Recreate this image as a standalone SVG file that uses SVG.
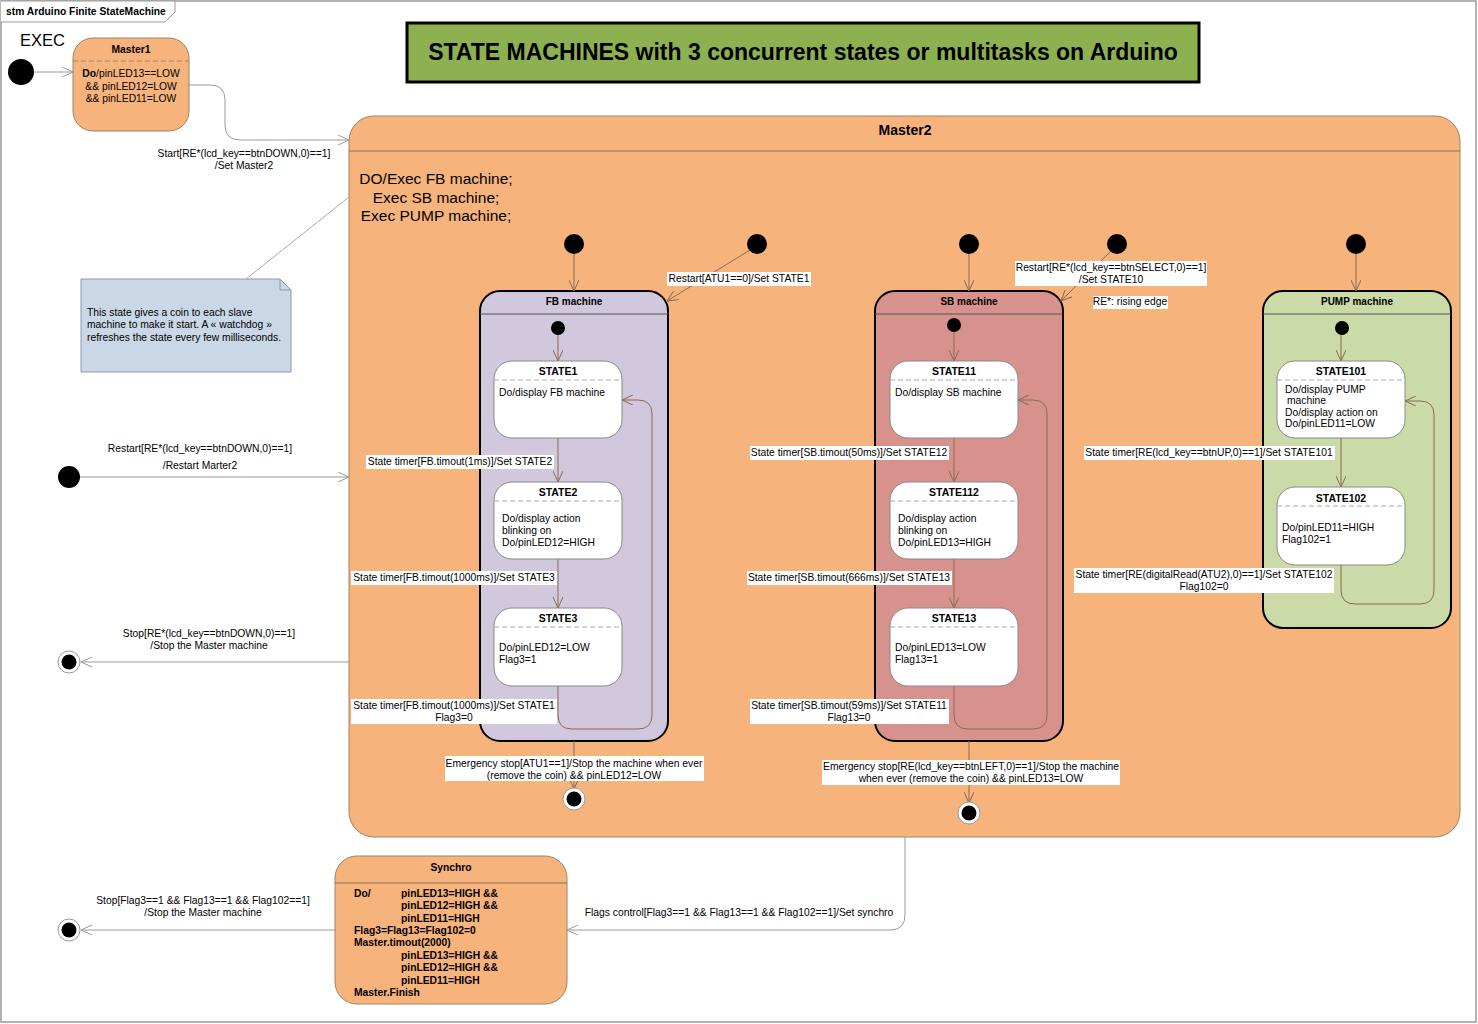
<svg xmlns="http://www.w3.org/2000/svg" width="1478" height="1024" viewBox="0 0 1478 1024">
<style>
text{font-family:"Liberation Sans",Arial,sans-serif;fill:#000}
.s{font-size:10.3px}
.b{font-weight:bold}
.c{text-anchor:middle}
.orange{fill:#F7B37C;stroke:#a08262;stroke-width:1}
.machine{stroke:#000;stroke-width:2}
.st{fill:#fff;stroke:#888;stroke-width:1}
.dash{stroke:#aaa;stroke-dasharray:5,3;stroke-width:1}
.sep{stroke:#8a6e55;stroke-width:1}
.lbl{fill:#fff}
.con{fill:none;stroke:#999;stroke-width:1}
.coni{fill:none;stroke:#8a6a52;stroke-width:1}
.init{fill:#000}
</style>
<defs>
<marker id="a" markerWidth="12" markerHeight="10" refX="11" refY="5" orient="auto" markerUnits="userSpaceOnUse">
<path d="M0,0 L11,5 L0,10" fill="none" stroke="#999" stroke-width="1"/>
</marker>
<marker id="ai" markerWidth="12" markerHeight="10" refX="11" refY="5" orient="auto" markerUnits="userSpaceOnUse">
<path d="M0,0 L11,5 L0,10" fill="none" stroke="#8a6a52" stroke-width="1"/>
</marker>
</defs>
<rect x="0" y="0" width="1478" height="1024" fill="#fff"/>
<rect x="1" y="1" width="1475" height="1021" fill="none" stroke="#999" stroke-width="1.5"/>
<path d="M1,1 L175,1 L175,12 L165,22 L1,22" fill="#fff" stroke="#999"/>
<text x="6" y="15" class="b" font-size="10.3">stm Arduino Finite StateMachine</text>

<g id="title">
<rect x="407" y="23" width="792" height="59" fill="#8DB150" stroke="#000" stroke-width="3"/>
<text x="803" y="60" class="c b" font-size="23">STATE MACHINES with 3 concurrent states or multitasks on Arduino</text>
</g>

<text x="20" y="46" font-size="16.5">EXEC</text>

<g id="master2">
<rect x="349" y="116" width="1111" height="721" rx="25" class="orange"/>
<line x1="349" y1="151" x2="1460" y2="151" class="sep"/>
<text x="905" y="135" class="c b" font-size="14">Master2</text>
<text x="436" y="184" class="c" font-size="15.5">DO/Exec FB machine;</text>
<text x="436" y="203" class="c" font-size="15.5">Exec SB machine;</text>
<text x="436" y="221" class="c" font-size="15.5">Exec PUMP machine;</text>
</g>

<g id="master1">
<rect x="73" y="38" width="116" height="93" rx="20" class="orange"/>
<text x="131" y="53" class="s b c">Master1</text>
<line x1="73" y1="61" x2="189" y2="61" stroke="#a08262" stroke-dasharray="5,3"/>
<text x="131" y="77" class="s c"><tspan class="b">Do</tspan>/pinLED13==LOW</text>
<text x="131" y="90" class="s c">&amp;&amp; pinLED12=LOW</text>
<text x="131" y="102" class="s c">&amp;&amp; pinLED11=LOW</text>
</g>

<g id="note">
<path d="M81,279 L280,279 L291,290 L291,372 L81,372 Z" fill="#CAD7E6" stroke="#8a9aab"/>
<path d="M280,279 L280,290 L291,290" fill="none" stroke="#8a9aab"/>
<text x="87" y="316" font-size="10.3">This state gives a coin to each slave</text>
<text x="87" y="328" font-size="10.3">machine to make it start. A « watchdog »</text>
<text x="87" y="341" font-size="10.3">refreshes the state every few milliseconds.</text>
</g>

<g id="fb">
<rect x="480" y="291" width="188" height="450" rx="20" fill="#D1C8DD" class="machine"/>
<line x1="480" y1="314" x2="668" y2="314" stroke="#555"/>
<text x="574" y="305" class="c b" font-size="10">FB machine</text>
</g>
<g id="sb">
<rect x="875" y="291" width="188" height="450" rx="20" fill="#D8928D" class="machine"/>
<line x1="875" y1="314" x2="1063" y2="314" stroke="#555"/>
<text x="969" y="305" class="c b" font-size="10">SB machine</text>
</g>
<g id="pump">
<rect x="1263" y="291" width="188" height="337" rx="20" fill="#CBDBA8" class="machine"/>
<line x1="1263" y1="314" x2="1451" y2="314" stroke="#555"/>
<text x="1357" y="305" class="c b" font-size="10">PUMP machine</text>
</g>

<g id="connectors">
<line x1="34" y1="72" x2="73" y2="72" class="con" marker-end="url(#a)"/>
<path d="M189,85 L210,85 Q225,85 225,100 L225,125 Q225,140 240,140 L349,140" class="con" marker-end="url(#a)"/>
<line x1="246" y1="279" x2="349" y2="197" stroke="#aaa"/>
<line x1="80" y1="477" x2="349" y2="477" class="con" marker-end="url(#a)"/>
<line x1="349" y1="662" x2="81" y2="662" class="con" marker-end="url(#a)"/>
<line x1="335" y1="930" x2="81" y2="930" class="con" marker-end="url(#a)"/>
<path d="M905,837 L905,915 Q905,930 890,930 L567,930" class="con" marker-end="url(#a)"/>

<line x1="574" y1="254" x2="574" y2="291" class="coni" marker-end="url(#ai)"/>
<line x1="750" y1="250" x2="667" y2="301" class="coni" marker-end="url(#ai)"/>
<line x1="969" y1="254" x2="969" y2="291" class="coni" marker-end="url(#ai)"/>
<line x1="1111" y1="251" x2="1061" y2="301" class="coni" marker-end="url(#ai)"/>
<line x1="1356" y1="254" x2="1356" y2="291" class="coni" marker-end="url(#ai)"/>
<line x1="574" y1="741" x2="574" y2="789" class="coni" marker-end="url(#ai)"/>
<line x1="969" y1="741" x2="969" y2="803" class="coni" marker-end="url(#ai)"/>

<line x1="558" y1="335" x2="558" y2="361" class="coni" marker-end="url(#ai)"/>
<line x1="558" y1="438" x2="558" y2="482" class="coni" marker-end="url(#ai)"/>
<line x1="558" y1="559" x2="558" y2="608" class="coni" marker-end="url(#ai)"/>
<path d="M558,686 L558,715 Q558,729 572,729 L638,729 Q652,729 652,715 L652,414 Q652,400 638,400 L622,400" class="coni" marker-end="url(#ai)"/>

<line x1="954" y1="332" x2="954" y2="361" class="coni" marker-end="url(#ai)"/>
<line x1="954" y1="438" x2="954" y2="482" class="coni" marker-end="url(#ai)"/>
<line x1="954" y1="559" x2="954" y2="608" class="coni" marker-end="url(#ai)"/>
<path d="M954,686 L954,715 Q954,729 968,729 L1033,729 Q1047,729 1047,715 L1047,414 Q1047,400 1033,400 L1018,400" class="coni" marker-end="url(#ai)"/>

<line x1="1341" y1="335" x2="1341" y2="361" class="coni" marker-end="url(#ai)"/>
<line x1="1341" y1="438" x2="1341" y2="487" class="coni" marker-end="url(#ai)"/>
<path d="M1341,565 L1341,590 Q1341,604 1355,604 L1420,604 Q1434,604 1434,590 L1434,415 Q1434,401 1420,401 L1405,401" class="coni" marker-end="url(#ai)"/>
</g>

<g id="initials">
<circle cx="21" cy="72" r="13" class="init"/>
<circle cx="69" cy="477" r="11" class="init"/>
<circle cx="574" cy="244" r="10" class="init"/>
<circle cx="757" cy="244" r="10" class="init"/>
<circle cx="969" cy="244" r="10" class="init"/>
<circle cx="1117" cy="244" r="10" class="init"/>
<circle cx="1356" cy="244" r="10" class="init"/>
<circle cx="558" cy="328" r="7" class="init"/>
<circle cx="954" cy="325" r="7" class="init"/>
<circle cx="1342" cy="328" r="7" class="init"/>
</g>
<g id="finals">
<circle cx="69" cy="662" r="11" fill="#fff" stroke="#999"/><circle cx="69" cy="662" r="7.5" class="init"/>
<circle cx="69" cy="930" r="11" fill="#fff" stroke="#999"/><circle cx="69" cy="930" r="7.5" class="init"/>
<circle cx="574" cy="799" r="11" fill="#fff" stroke="#999"/><circle cx="574" cy="799" r="7.5" class="init"/>
<circle cx="969" cy="813" r="11" fill="#fff" stroke="#999"/><circle cx="969" cy="813" r="7.5" class="init"/>
</g>

<g id="state1"><rect x="494" y="361" width="128" height="77" rx="18" class="st"/><text x="558" y="375" class="c b" font-size="10.5">STATE1</text><line x1="494" y1="380" x2="622" y2="380" class="dash"/><text x="499" y="396" class="s">Do/display FB machine</text></g>
<g id="state2"><rect x="494" y="482" width="128" height="77" rx="18" class="st"/><text x="558" y="496" class="c b" font-size="10.5">STATE2</text><line x1="494" y1="501" x2="622" y2="501" class="dash"/><text x="502" y="522" class="s">Do/display action</text><text x="502" y="534" class="s">blinking on</text><text x="502" y="546" class="s">Do/pinLED12=HIGH</text></g>
<g id="state3"><rect x="494" y="608" width="128" height="78" rx="18" class="st"/><text x="558" y="622" class="c b" font-size="10.5">STATE3</text><line x1="494" y1="627" x2="622" y2="627" class="dash"/><text x="499" y="651" class="s">Do/pinLED12=LOW</text><text x="499" y="663" class="s">Flag3=1</text></g>

<g id="state11"><rect x="890" y="361" width="128" height="77" rx="18" class="st"/><text x="954" y="375" class="c b" font-size="10.5">STATE11</text><line x1="890" y1="380" x2="1018" y2="380" class="dash"/><text x="895" y="396" class="s">Do/display SB machine</text></g>
<g id="state112"><rect x="890" y="482" width="128" height="77" rx="18" class="st"/><text x="954" y="496" class="c b" font-size="10.5">STATE112</text><line x1="890" y1="501" x2="1018" y2="501" class="dash"/><text x="898" y="522" class="s">Do/display action</text><text x="898" y="534" class="s">blinking on</text><text x="898" y="546" class="s">Do/pinLED13=HIGH</text></g>
<g id="state13"><rect x="890" y="608" width="128" height="78" rx="18" class="st"/><text x="954" y="622" class="c b" font-size="10.5">STATE13</text><line x1="890" y1="627" x2="1018" y2="627" class="dash"/><text x="895" y="651" class="s">Do/pinLED13=LOW</text><text x="895" y="663" class="s">Flag13=1</text></g>

<g id="state101"><rect x="1277" y="361" width="128" height="77" rx="18" class="st"/><text x="1341" y="375" class="c b" font-size="10.5">STATE101</text><line x1="1277" y1="380" x2="1405" y2="380" class="dash"/><text x="1285" y="393" class="s">Do/display PUMP</text><text x="1287" y="404" class="s">machine</text><text x="1285" y="416" class="s">Do/display action on</text><text x="1285" y="427" class="s">Do/pinLED11=LOW</text></g>
<g id="state102"><rect x="1277" y="487" width="128" height="78" rx="18" class="st"/><text x="1341" y="502" class="c b" font-size="10.5">STATE102</text><line x1="1277" y1="506" x2="1405" y2="506" class="dash"/><text x="1282" y="531" class="s">Do/pinLED11=HIGH</text><text x="1282" y="543" class="s">Flag102=1</text></g>

<g id="synchro">
<rect x="335" y="856" width="232" height="148" rx="22" class="orange"/>
<line x1="335" y1="883" x2="567" y2="883" class="sep"/>
<text x="451" y="871" class="c b" font-size="10.3">Synchro</text>
<g class="b" font-size="10.3">
<text x="354" y="897">Do/</text>
<text x="401" y="897">pinLED13=HIGH &amp;&amp;</text>
<text x="401" y="909">pinLED12=HIGH &amp;&amp;</text>
<text x="401" y="922">pinLED11=HIGH</text>
<text x="354" y="934">Flag3=Flag13=Flag102=0</text>
<text x="354" y="946">Master.timout(2000)</text>
<text x="401" y="959">pinLED13=HIGH &amp;&amp;</text>
<text x="401" y="971">pinLED12=HIGH &amp;&amp;</text>
<text x="401" y="984">pinLED11=HIGH</text>
<text x="354" y="996">Master.Finish</text>
</g>
</g>

<g id="labels">
<text x="244" y="157" class="s c">Start[RE*(lcd_key==btnDOWN,0)==1]</text>
<text x="244" y="169" class="s c">/Set Master2</text>
<text x="200" y="452" class="s c">Restart[RE*(lcd_key==btnDOWN,0)==1]</text>
<text x="200" y="469" class="s c">/Restart Marter2</text>
<text x="209" y="637" class="s c">Stop[RE*(lcd_key==btnDOWN,0)==1]</text>
<text x="209" y="649" class="s c">/Stop the Master machine</text>
<text x="203" y="904" class="s c">Stop[Flag3==1 &amp;&amp; Flag13==1 &amp;&amp; Flag102==1]</text>
<text x="203" y="916" class="s c">/Stop the Master machine</text>
<text x="739" y="916" class="s c">Flags control[Flag3==1 &amp;&amp; Flag13==1 &amp;&amp; Flag102==1]/Set synchro</text>

<rect x="667" y="272" width="144" height="14" class="lbl"/>
<text x="739" y="282" class="s c">Restart[ATU1==0]/Set STATE1</text>
<rect x="1015" y="261" width="192" height="25" class="lbl"/>
<text x="1111" y="271" class="s c">Restart[RE*(lcd_key==btnSELECT,0)==1]</text>
<text x="1111" y="283" class="s c">/Set STATE10</text>
<rect x="1093" y="296" width="75" height="13" class="lbl"/>
<text x="1130" y="305" class="s c">RE*: rising edge</text>

<rect x="366" y="455" width="188" height="14" class="lbl"/>
<text x="460" y="465" class="s c">State timer[FB.timout(1ms)]/Set STATE2</text>
<rect x="351" y="571" width="206" height="14" class="lbl"/>
<text x="454" y="581" class="s c">State timer[FB.timout(1000ms)]/Set STATE3</text>
<rect x="351" y="699" width="206" height="25" class="lbl"/>
<text x="454" y="709" class="s c">State timer[FB.timout(1000ms)]/Set STATE1</text>
<text x="454" y="721" class="s c">Flag3=0</text>
<rect x="445" y="756" width="259" height="25" class="lbl"/>
<text x="574" y="767" class="s c">Emergency stop[ATU1==1]/Stop the machine when ever</text>
<text x="574" y="779" class="s c">(remove the coin) &amp;&amp; pinLED12=LOW</text>

<rect x="750" y="446" width="199" height="14" class="lbl"/>
<text x="849" y="456" class="s c">State timer[SB.timout(50ms)]/Set STATE12</text>
<rect x="747" y="571" width="205" height="14" class="lbl"/>
<text x="849" y="581" class="s c">State timer[SB.timout(666ms)]/Set STATE13</text>
<rect x="750" y="699" width="199" height="25" class="lbl"/>
<text x="849" y="709" class="s c">State timer[SB.timout(59ms)]/Set STATE11</text>
<text x="849" y="721" class="s c">Flag13=0</text>
<rect x="822" y="760" width="298" height="25" class="lbl"/>
<text x="971" y="770" class="s c">Emergency stop[RE(lcd_key==btnLEFT,0)==1]/Stop the machine</text>
<text x="971" y="782" class="s c">when ever (remove the coin) &amp;&amp; pinLED13=LOW</text>

<rect x="1084" y="446" width="251" height="14" class="lbl"/>
<text x="1209" y="456" class="s c">State timer[RE(lcd_key==btnUP,0)==1]/Set STATE101</text>
<rect x="1074" y="568" width="260" height="25" class="lbl"/>
<text x="1204" y="578" class="s c">State timer[RE(digitalRead(ATU2),0)==1]/Set STATE102</text>
<text x="1204" y="590" class="s c">Flag102=0</text>
</g>
</svg>
